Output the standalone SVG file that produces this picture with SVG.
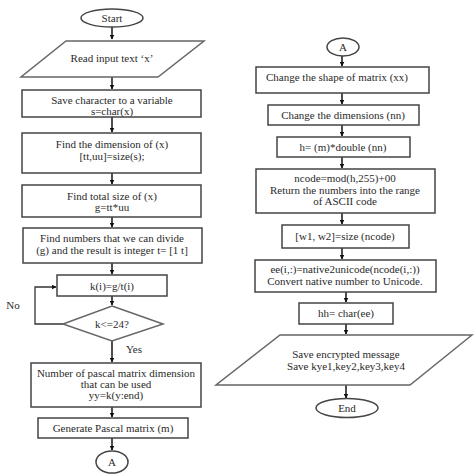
<svg xmlns="http://www.w3.org/2000/svg" width="474" height="474" viewBox="0 0 474 474">
<defs>
<marker id="ah" viewBox="0 0 10 10" refX="9" refY="5" markerWidth="5" markerHeight="5" orient="auto" markerUnits="userSpaceOnUse"><path d="M0,0 L10,5 L0,10 z" fill="#111"/></marker>
<style>
.s{fill:#fff;stroke:#444;stroke-width:1.5}
.t{font-family:"Liberation Serif","Times New Roman",serif;font-size:11px;fill:#2a2a2a;text-anchor:middle}
.c{fill:none;stroke:#222;stroke-width:1.6;marker-end:url(#ah)}
.p{fill:none;stroke:#555;stroke-width:1.3}
</style>
</defs>
<rect width="474" height="474" fill="#fff"/>
<g id="connectors">
<line class="c" x1="112" y1="27" x2="112" y2="39"/>
<line class="c" x1="112" y1="77" x2="112" y2="89"/>
<line class="c" x1="112" y1="117" x2="112" y2="132"/>
<line class="c" x1="112" y1="173" x2="112" y2="184"/>
<line class="c" x1="112" y1="217" x2="112" y2="227"/>
<line class="c" x1="112" y1="263" x2="112" y2="274"/>
<line class="c" x1="112" y1="296" x2="112" y2="305"/>
<polyline class="p" style="marker-end:url(#ah);stroke:#333" points="63,324 35,324 35,287 56,287"/>
<line class="c" x1="112" y1="341" x2="112" y2="362"/>
<line class="c" x1="112" y1="407" x2="112" y2="417"/>
<line class="c" x1="112" y1="438" x2="112" y2="450"/>
<line class="c" x1="342" y1="56" x2="342" y2="66"/>
<line class="c" x1="342" y1="93" x2="342" y2="104"/>
<line class="c" x1="342" y1="125" x2="342" y2="136"/>
<line class="c" x1="342" y1="157" x2="342" y2="168"/>
<line class="c" x1="342" y1="213" x2="342" y2="224"/>
<line class="c" x1="342" y1="248" x2="342" y2="259"/>
<line class="c" x1="346" y1="292" x2="346" y2="302"/>
<line class="c" x1="346" y1="324" x2="346" y2="334"/>
<line class="c" x1="346" y1="385" x2="346" y2="398"/>
<text class="t" x="13" y="309">No</text>
<text class="t" x="134" y="353">Yes</text>
</g>
<g id="start"><ellipse class="s" cx="112" cy="18" rx="31" ry="9"/><text class="t" x="112" y="22">Start</text></g>
<g id="read"><polygon class="s" style="stroke:#666" points="66,41 204,41 158,77 21,77"/><text class="t" x="112" y="62">Read input text ‘x’</text></g>
<g id="save"><rect class="s" x="22" y="90" width="179" height="27"/><text class="t" x="112" y="104">Save character to a variable</text><text class="t" x="112" y="115">s=char(x)</text></g>
<g id="dim"><rect class="s" x="22" y="133" width="179" height="40"/><text class="t" x="112" y="148">Find the dimension of (x)</text><text class="t" x="112" y="160">[tt,uu]=size(s);</text></g>
<g id="total"><rect class="s" x="22" y="185" width="179" height="32"/><text class="t" x="112" y="200">Find total size of (x)</text><text class="t" x="112" y="211">g=tt*uu</text></g>
<g id="divide"><rect class="s" x="23" y="228" width="179" height="35"/><text class="t" x="112" y="242">Find numbers that we can divide</text><text class="t" x="112" y="254">(g) and the result is integer t= [1 t]</text></g>
<g id="k"><rect class="s" x="57" y="275" width="110" height="21"/><text class="t" x="112" y="290">k(i)=g/t(i)</text></g>
<g id="cond"><polygon class="s" style="stroke:#666" points="112,306 163,324 112,341 63,324"/><text class="t" x="112" y="328">k&lt;=24?</text></g>
<g id="pascaldim"><rect class="s" x="31" y="363" width="170" height="44"/><text class="t" x="116" y="377">Number of pascal matrix dimension</text><text class="t" x="116" y="388">that can be used</text><text class="t" x="116" y="399">yy=k(y:end)</text></g>
<g id="gen"><rect class="s" x="38" y="418" width="150" height="20"/><text class="t" x="113" y="432">Generate Pascal matrix (m)</text></g>
<g id="a1"><ellipse class="s" cx="112" cy="462" rx="16" ry="11"/><text class="t" x="112" y="466">A</text></g>
<g id="a2"><ellipse class="s" cx="343" cy="47" rx="16" ry="9"/><text class="t" x="343" y="51">A</text></g>
<g id="shape"><rect class="s" x="256" y="67" width="173" height="26"/><text class="t" x="337" y="81">Change the shape of matrix (xx)</text></g>
<g id="dims"><rect class="s" x="268" y="105" width="151" height="20"/><text class="t" x="343" y="119">Change the dimensions (nn)</text></g>
<g id="h"><rect class="s" x="277" y="137" width="133" height="20"/><text class="t" x="343" y="151">h= (m)*double (nn)</text></g>
<g id="ncode"><rect class="s" x="256" y="169" width="179" height="44"/><text class="t" x="345" y="182">ncode=mod(h,255)+00</text><text class="t" x="345" y="194">Return the numbers into the range</text><text class="t" x="345" y="205">of ASCII code</text></g>
<g id="w"><rect class="s" x="282" y="225" width="127" height="23"/><text class="t" x="345" y="240">[w1, w2]=size (ncode)</text></g>
<g id="ee"><rect class="s" x="255" y="260" width="181" height="32"/><text class="t" x="345" y="273">ee(i,:)=native2unicode(ncode(i,:))</text><text class="t" x="345" y="285">Convert native number to Unicode.</text></g>
<g id="hh"><rect class="s" x="299" y="303" width="94" height="21"/><text class="t" x="346" y="317">hh= char(ee)</text></g>
<g id="savemsg"><polygon class="s" style="stroke:#666" points="280,335 472,335 410,385 216,385"/><text class="t" x="346" y="358">Save encrypted message</text><text class="t" x="346" y="370">Save kye1,key2,key3,key4</text></g>
<g id="end"><ellipse class="s" cx="347" cy="408" rx="31" ry="9.5"/><text class="t" x="347" y="412">End</text></g>
</svg>
